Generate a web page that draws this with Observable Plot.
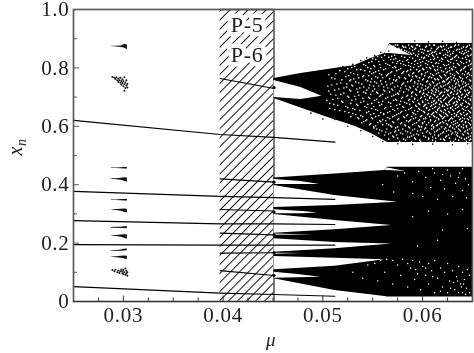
<!DOCTYPE html>
<html>
<head>
<meta charset="utf-8">
<script src="https://cdn.jsdelivr.net/npm/d3@7"></script>
<script src="https://cdn.jsdelivr.net/npm/@observablehq/plot@0.6"></script>
<style>
html,body{margin:0;padding:0;background:#fff}
svg{display:block;filter:blur(.3px)}
svg text{letter-spacing:.7px;font-family:"Liberation Serif",serif !important}
</style>
</head>
<body>
<div id="chart"></div>
<script>
const xMajor=[.03,.04,.05,.06];
const xMinor=[.0275,.0325,.035,.0375,.0425,.045,.0475,.0525,.055,.0575,.0625];
const yMajor=[0,.2,.4,.6,.8,1];
const yMinor=[.1,.3,.5,.7,.9];

// period-5 branches: mu, x_n
const p5Mu=[.025,.0397,.0451,.0512];
const p5Lines=[
  [.620,.572,.562,.5455],
  [.377,.360,.356,.350],
  [.277,.266,.266,.2637],
  [.195,.193,.193,.193],
  [.051,.029,.024,.018]
];
// period-6 branches inside the hatched window
const p6Mu=[.0397,.0451];
const p6Lines=[[.7637,.7295],[.420,.4085],[.315,.310],[.234,.2285],[.1655,.167],[.106,.089]];
const blobs=[.7329,.4085,.3065,.2285,.167,.089];

// chaotic bands
const upperMu=[.0451,.0478,.0505,.0532,.0548,.0562,.0565,.0567,.065];
const upperHi=[.7637,.7808,.7945,.8082,.832,.8493,.868,.8836,.8836];
const upperLo=[.6952,.6627,.630,.6003,.576,.55,.5445,.5445,.5445];
const lowerMu=[.0451,.0512,.0562,.0565,.065];
const lowerHi=[.4229,.437,.4486,.46,.46];
const lowerLo=[.0777,.0377,.0168,.015,.015];

// white windows: [mu, hi, lo]
const gaps=[
 [[.0451,.7568,.6986],[.0478,.7329,.6918],[.0499,.703,.703]],
 [[.0562,.8493,.8493],[.0567,.880,.8493],[.0589,.8425,.8425]],
 [[.0562,.4486,.4486],[.0565,.4572,.4486],[.0583,.4452,.4452]],
 [[.0451,.4178,.4007],[.0478,.411,.4007],[.0497,.4007,.4007]],
 [[.0451,.3973,.3219],[.0512,.363,.3288],[.0575,.34,.34]],
 [[.0451,.314,.3003],[.048,.3086,.3003],[.0495,.3032,.3032]],
 [[.0451,.298,.2339],[.0512,.2774,.2455],[.0569,.2603,.2603]],
 [[.0451,.2315,.2267],[.0491,.2277,.2277]],
 [[.0451,.2147,.1688],[.0512,.2021,.1805],[.0569,.1969,.1969]],
 [[.0451,.1655,.1620],[.048,.164,.164]],
 [[.0451,.1541,.1086],[.0512,.148,.1209],[.0562,.1428,.1428]],
 [[.0451,.1003,.0798],[.0475,.0925,.0815],[.0498,.0832,.0832]]
];

// periodic windows near mu = 0.03
const clusterMu=[.0288,.0293,.0298,.0301,.0304];
const clusterHi=[
 [.874,.874,.875,.880,.878],[.4575,.4575,.458,.459,.459],[.420,.420,.422,.424,.423],
 [.348,.348,.349,.349,.350],[.314,.315,.316,.317,.316],[.253,.254,.254,.256,.256],
 [.226,.226,.228,.229,.228],[.173,.174,.176,.179,.18],[.153,.153,.155,.156,.155]
];
const clusterLo=[
 [.873,.872,.870,.868,.862],[.4555,.4555,.455,.454,.454],[.419,.417,.415,.412,.408],
 [.346,.346,.345,.344,.344],[.313,.312,.309,.306,.303],[.251,.251,.25,.25,.249],
 [.225,.223,.220,.217,.213],[.171,.171,.172,.173,.174],[.152,.15,.148,.146,.143]
];
const clusterDots=[
 [.0289,.769],[.0291,.766],[.0292,.762],[.0293,.768],[.0294,.758],[.0295,.764],[.0295,.752],[.0296,.758],[.0297,.749],[.0297,.766],[.0298,.755],[.0298,.742],[.0299,.761],[.0299,.748],[.0300,.737],[.0300,.754],[.0301,.744],[.0301,.768],[.0302,.731],[.0302,.750],[.0303,.740],[.0303,.758],[.0304,.733],[.0304,.745],[.0301,.722],
 [.0289,.108],[.0291,.104],[.0292,.109],[.0294,.100],[.0295,.106],[.0296,.098],[.0297,.104],[.0298,.110],[.0299,.097],[.0299,.103],[.0300,.094],[.0300,.108],[.0301,.100],[.0302,.113],[.0302,.092],[.0303,.105],[.0303,.096],[.0304,.088],[.0304,.100]
];

// white specks: [x_n, [mu in 1e-4 ...]]
const upperSpeckRows=[
[.878,[573,575,586,594,595,607,611,612,624,633,636,647]],
[.871,[569,581,583,590,603,616,619,628,629,641,644]],
[.864,[577,579,592,598,600,614,622,635,637,649]],
[.857,[584,596,605,606,613,627,631,640,646]],
[.850,[588,591,601,609,617,618,630,639,642]],
[.843,[562,572,593,604,610,621,625,634,645,648]],
[.836,[559,566,582,587,599,602,615,623,632,636,643]],
[.829,[553,568,571,585,597,608,611,620,628,629,644]],
[.822,[549,556,575,580,592,600,606,619,626,638,647]],
[.815,[563,574,578,589,595,603,613,616,631,635,641,649]],
[.808,[543,551,567,583,586,598,610,622,624,637,646]],
[.801,[529,545,558,570,573,591,604,607,618,627,633,642]],
[.794,[534,538,561,576,588,594,601,612,615,630,639,648]],
[.787,[522,547,553,569,581,584,596,605,621,625,634,643]],
[.780,[513,531,549,557,566,579,590,599,608,614,628,636,640,645]],
[.773,[526,541,546,564,572,587,593,602,611,617,623,632,649]],
[.766,[509,536,555,560,577,582,597,606,609,619,626,631,638,644]],
[.759,[519,528,543,571,574,589,600,613,616,624,629,635,647]],
[.752,[533,548,552,563,585,592,604,610,620,622,627,636,641]],
[.745,[514,524,539,559,568,580,595,598,607,615,625,633,640,646]],
[.738,[505,530,551,556,575,583,591,603,612,618,621,630,637,643,649]],
[.731,[521,537,546,565,578,588,599,605,611,616,628,632,639,648]],
[.724,[512,527,544,561,570,586,594,601,609,614,624,626,635,642,645]],
[.717,[535,541,554,567,581,590,597,606,613,619,622,629,638,647]],
[.710,[508,518,548,560,573,576,593,600,604,611,617,625,631,634,640,644]],
[.703,[525,532,557,569,584,589,602,608,615,620,627,636,643,649]],
[.696,[515,540,547,563,579,592,598,607,610,618,623,630,633,639,646]],
[.689,[504,529,552,571,574,586,595,605,612,616,621,628,637,641,648]],
[.682,[520,538,556,566,582,591,600,609,614,619,626,632,635,644]],
[.675,[511,534,545,559,577,587,597,603,611,617,624,627,634,638,647]],
[.668,[523,542,551,568,580,594,601,608,613,620,622,630,636,642,645]],
[.661,[507,530,549,562,575,588,596,604,610,616,625,628,633,640,649]],
[.654,[517,537,555,572,583,592,599,606,615,618,623,631,637,643,646]],
[.647,[526,544,558,565,578,590,602,611,614,621,627,635,641,648]],
[.640,[533,548,561,574,585,593,605,609,617,624,629,634,639,644]],
[.633,[528,540,553,570,581,589,598,607,612,619,622,632,636,647]],
[.626,[536,550,567,576,591,601,603,616,620,628,630,638,642,645]],
[.619,[543,557,563,584,587,596,608,613,623,626,633,640,649]],
[.612,[539,555,571,579,594,600,606,618,621,629,635,643,646]],
[.605,[547,560,566,582,590,604,610,615,625,631,637,641,648]],
[.598,[551,569,575,586,597,599,611,619,627,634,639,644]],
[.591,[554,564,580,592,602,609,617,622,632,636,647]],
[.584,[559,573,583,595,605,614,624,628,638,643]],
[.577,[556,568,578,588,600,607,620,630,635,645,649]],
[.570,[562,574,591,596,612,616,626,634,641]],
[.563,[571,585,587,603,610,623,637,646]],
[.556,[566,581,593,606,618,621,633,642,648]],
[.549,[577,589,598,613,628,631,644]]
];
// further specks lying between those rows
const upperSpeckRows2=[
[.8745,[571,580,589,597,604,618,621,632,645]],
[.8675,[576,587,593,609,615,626,639,648]],
[.8605,[582,590,602,608,620,624,634,643]],
[.8535,[586,599,610,612,625,637,644]],
[.8465,[589,596,607,614,623,628,641,649]],
[.8395,[555,569,579,595,606,611,627,633,646]],
[.8325,[550,573,590,601,612,619,630,640]],
[.8255,[561,577,584,593,604,617,625,634,647]],
[.8185,[546,570,586,598,609,614,628,639,644]],
[.8115,[541,557,565,581,592,605,621,626,636,648]],
[.8045,[532,552,572,588,596,611,615,631,643]],
[.7975,[525,548,563,578,600,608,623,629,641,649]],
[.7905,[517,542,556,574,585,597,613,619,627,638]],
[.7835,[528,551,568,580,591,603,616,624,635,646]],
[.7765,[506,535,559,565,586,599,610,622,630,642,647]],
[.7695,[523,540,553,576,590,594,607,618,628,637,645]],
[.7625,[512,531,549,567,583,601,612,615,625,633,640]],
[.7555,[527,545,558,573,588,596,605,621,632,639,648]],
[.7485,[518,536,554,570,581,592,611,617,626,634,643]],
[.7415,[509,529,547,564,579,600,608,614,623,636,644]],
[.7345,[524,541,561,572,587,595,606,619,627,633,641,647]],
[.7275,[516,534,552,569,584,593,603,613,622,630,638,649]],
[.7205,[506,528,550,562,577,598,610,616,625,632,637,643]],
[.7135,[521,543,555,575,589,601,609,618,628,635,646]],
[.7065,[513,536,558,571,585,594,605,612,621,626,639,645]],
[.6995,[526,546,565,580,599,607,614,624,631,637,642]],
[.6925,[510,533,554,573,587,592,603,616,622,629,636,648]],
[.6855,[519,541,560,578,590,600,611,618,627,634,643]],
[.6785,[507,528,549,568,584,596,606,613,623,631,640,646]],
[.6715,[515,535,557,574,593,602,609,620,625,633,639]],
[.6645,[525,544,563,581,589,604,612,617,628,635,644,649]],
[.6575,[512,532,553,570,586,597,607,615,622,630,641]],
[.6505,[522,546,567,579,595,601,613,619,626,636,647]],
[.6435,[530,551,561,576,591,606,610,623,632,638,645]],
[.6365,[538,556,572,584,599,611,618,625,634,642]],
[.6295,[535,549,565,582,593,603,614,621,629,640,648]],
[.6225,[544,560,575,588,597,608,616,627,637,646]],
[.6155,[541,558,570,586,602,612,620,631,639,643]],
[.6085,[548,564,578,592,600,617,624,633,647]],
[.6015,[553,568,583,596,609,614,628,636,644]],
[.5945,[551,573,587,603,611,623,630,641,649]],
[.5875,[557,576,590,598,615,626,637,645]],
[.5805,[563,572,585,604,612,621,633,642]],
[.5735,[566,580,594,608,618,629,640,646]],
[.5665,[570,589,601,616,624,635,648]],
[.5595,[575,592,606,613,627,639,644]],
[.5525,[583,597,610,622,636,647]]
];
// stray points just outside the band edges
const fringe=[[.0530,.812],[.0538,.825],[.0520,.805],[.0544,.835],[.0552,.842],[.0558,.853],[.0566,.858],[.0578,.868],[.0592,.892],[.0606,.889],[.0620,.891],[.0634,.888],[.0512,.6235],[.0525,.600],[.0538,.585],[.0550,.565],[.0560,.548],[.0575,.540],[.0590,.538],[.0610,.539],[.0630,.537],[.0645,.540],[.0500,.625],[.0488,.645]];
const lowerSpecks=[
[.0568,.455],[.0575,.43],[.0582,.44],[.0590,.41],[.0596,.445],[.0603,.425],[.0608,.39],[.0612,.44],[.0618,.415],[.0622,.385],[.0628,.43],[.0633,.405],[.0637,.44],[.0640,.38],[.0643,.42],[.0646,.40],[.0600,.36],[.0615,.35],[.0630,.36],[.0644,.355],[.0610,.455],[.0625,.45],[.0640,.455],[.0636,.425],[.0620,.435],
[.0560,.40],[.0571,.375],[.0590,.37],[.0606,.31],[.0625,.30],[.0640,.315],[.0645,.25],[.0620,.245],[.0590,.29],[.0595,.19],[.0615,.21],
[.0545,.125],[.0552,.13],[.0558,.14],[.0564,.145],[.0570,.14],[.0575,.125],[.0580,.145],[.0585,.13],[.0590,.14],[.0593,.11],[.0597,.135],[.0600,.12],[.0603,.09],[.0606,.13],[.0609,.105],[.0612,.14],[.0615,.08],[.0618,.115],[.0620,.05],[.0622,.10],[.0625,.13],[.0627,.07],[.0630,.105],[.0632,.04],[.0634,.085],[.0636,.12],[.0638,.06],[.0640,.03],[.0640,.10],[.0642,.075],[.0644,.045],[.0645,.11],[.0647,.09],[.0647,.03],
[.0530,.10],[.0540,.08],[.0555,.07],[.0562,.10],[.0570,.06],[.0578,.09],[.0585,.05],[.0592,.075],[.0598,.04],[.0606,.06],[.0612,.03],[.0618,.035],[.0625,.03],[.0631,.065],[.0643,.025],[.0636,.03],[.0639,.05],[.0628,.045],[.0635,.07],[.0641,.06],[.0610,.085],[.0595,.095],[.0603,.115],[.0588,.115]
];

const upperSpecks=[...upperSpeckRows,...upperSpeckRows2].flatMap(([v,ms])=>ms.map(m=>[m/1e4,v]));
const band=(mu,hi,lo,id)=>mu.map((m,i)=>({m,hi:hi[i],lo:lo[i],id}));
const bodies=[...band(upperMu,upperHi,upperLo,"u"),...band(lowerMu,lowerHi,lowerLo,"l")];
const gapRows=gaps.flatMap((g,id)=>g.map(([m,hi,lo])=>({m,hi,lo,id})));
const clusterRows=clusterHi.flatMap((h,id)=>band(clusterMu,h,clusterLo[id],id));
const p5Rows=p5Lines.flatMap((l,id)=>l.map((v,i)=>({m:p5Mu[i],v,id})));
const p6Rows=p6Lines.flatMap((l,id)=>l.map((v,i)=>({m:p6Mu[i],v,id})));

const gray="#5a5a5a";
const plot=Plot.plot({
  width:474,height:353,marginLeft:73,marginRight:2,marginTop:9,marginBottom:52,
  style:{background:"#fff"},
  x:{domain:[.025,.065],label:null},
  y:{domain:[0,1],label:null},
  marks:[
    Plot.rect([0],{x1:.0397,x2:.0451,y1:0,y2:1,fill:"url(#hatch)"}),
    Plot.text(["P-5"],{x:.0424,y:.947,fontSize:22,stroke:"#fff",strokeWidth:9,fill:"#222",textAnchor:"middle"}),
    Plot.text(["P-6"],{x:.0424,y:.845,fontSize:22,stroke:"#fff",strokeWidth:9,fill:"#222",textAnchor:"middle"}),
    Plot.ruleX([.0451],{stroke:"#222",strokeWidth:1.2}),
    Plot.ruleY([1],{x1:.0397,x2:.0451,stroke:"#111",strokeWidth:1.5}),
    Plot.areaY(bodies,{x:"m",y1:"lo",y2:"hi",z:"id",fill:"#000"}),
    Plot.areaY(gapRows,{x:"m",y1:"lo",y2:"hi",z:"id",fill:"#fff"}),
    Plot.dot(upperSpecks,{x:d=>d[0],y:d=>d[1],r:.8,fill:"#fff"}),
    Plot.dot(lowerSpecks,{x:d=>d[0],y:d=>d[1],r:.75,fill:"#fff"}),
    Plot.dot(fringe,{x:d=>d[0],y:d=>d[1],r:.8,fill:"#000"}),
    Plot.line(p5Rows,{x:"m",y:"v",z:"id",stroke:"#000",strokeWidth:1.2}),
    Plot.line(p6Rows,{x:"m",y:"v",z:"id",stroke:"#000",strokeWidth:1.2}),
    Plot.dot(blobs,{x:()=>.0451,y:d=>d,r:1.6,fill:"#000"}),
    Plot.areaY(clusterRows,{x:"m",y1:"lo",y2:"hi",z:"id",fill:"#111"}),
    Plot.dot(clusterDots,{x:d=>d[0],y:d=>d[1],r:1,fill:"#111"}),
    Plot.ruleX(xMajor,{y1:0,y2:.019,stroke:"#333"}),
    Plot.ruleX(xMinor,{y1:0,y2:.012,stroke:"#333"}),
    Plot.ruleY(yMajor,{x1:.025,x2:.0256,stroke:gray}),
    Plot.ruleY(yMinor,{x1:.025,x2:.0254,stroke:gray}),
    Plot.frame({stroke:gray,strokeWidth:1.7}),
    Plot.ruleY([0],{stroke:"#333",strokeWidth:1.1}),
    Plot.axisX(xMajor,{anchor:"bottom",tickSize:0,tickPadding:6,fontSize:21,fill:"#222",tickFormat:d=>d.toFixed(2),label:null}),
    Plot.axisY(yMajor,{anchor:"left",tickSize:0,tickPadding:4,fontSize:21,fill:"#222",tickFormat:d=>d===0?"0":d.toFixed(1),label:null}),
    Plot.text(["μ"],{frameAnchor:"bottom",dx:-2,dy:44,fontSize:19,fontStyle:"italic",fill:"#222"}),
    Plot.text(["xn"],{frameAnchor:"left",dx:-58,dy:0,rotate:-90,fontSize:20,fontStyle:"italic",fill:"#222"})
  ]
});
plot.insertAdjacentHTML("afterbegin",`<defs><pattern id="hatch" patternUnits="userSpaceOnUse" width="6.4" height="6.4" patternTransform="rotate(-45)"><line x1="0" y1="3.2" x2="6.4" y2="3.2" stroke="#111" stroke-width="1"/></pattern></defs>`);
plot.querySelectorAll("text").forEach(t=>{
  if(t.textContent==="xn"){
    const tgt=t.querySelector("tspan")||t;
    tgt.innerHTML='x<tspan dy="4" font-size="14">n</tspan>';
  }
});
document.getElementById("chart").append(plot);
</script>
</body>
</html>
